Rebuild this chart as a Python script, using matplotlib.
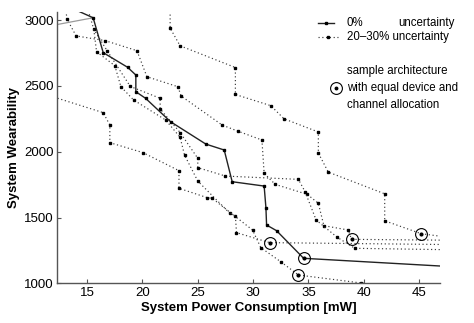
import matplotlib
matplotlib.use("Agg")
import matplotlib.pyplot as plt
from matplotlib.lines import Line2D

plt.rcParams['font.family'] = ['Liberation Sans', 'DejaVu Sans']

# 0% uncertainty (solid)
solid_x = [13.9, 15.54, 16.45, 18.65, 19.40, 19.40, 20.28, 22.54, 25.73, 27.39, 28.11, 31.00, 31.16, 31.22, 32.12, 34.57, 47.0]
solid_y = [3080, 3018, 2753, 2642, 2583, 2456, 2406, 2228, 2058, 2013, 1772, 1739, 1575, 1443, 1400, 1190, 1131]

# grey thin segment at top left
grey_x = [12.0, 15.54]
grey_y = [2962, 3018]

# 20-30% uncertainty (dotted) series
a_x = [22.5, 22.5, 23.4, 28.4, 28.4, 31.6, 32.8, 35.9, 35.9, 36.8, 41.9, 41.9, 45.2, 47.0]
a_y = [3100, 2940, 2805, 2640, 2435, 2350, 2250, 2150, 1990, 1845, 1680, 1475, 1377, 1357]

b_x = [13.0, 13.2, 14.0, 16.6, 19.5, 20.4, 23.2, 23.5, 27.2, 28.6, 30.8, 31.0, 32.0, 34.9, 35.9, 36.4, 38.6, 38.9, 47.0]
b_y = [3100, 3005, 2880, 2845, 2768, 2570, 2494, 2423, 2203, 2157, 2089, 1836, 1752, 1676, 1608, 1438, 1405, 1334, 1328]

c_x = [15.0, 15.6, 16.8, 18.9, 21.6, 21.6, 23.4, 25.0, 25.0, 27.5, 34.1, 34.7, 35.7, 37.6, 39.2, 47.0]
c_y = [3100, 2930, 2768, 2496, 2406, 2325, 2146, 1950, 1879, 1815, 1790, 1696, 1481, 1350, 1266, 1256]

d_x = [15.6, 15.85, 17.5, 18.05, 19.2, 22.1, 23.4, 23.8, 25.0, 27.9, 28.4, 28.5, 31.5, 47.0]
d_y = [2930, 2760, 2654, 2494, 2393, 2241, 2110, 1975, 1777, 1532, 1514, 1385, 1309, 1295]

e_x = [12.0, 16.45, 17.05, 17.05, 20.05, 23.3, 23.3, 25.85, 26.3, 29.95, 30.7, 32.5, 34.1, 39.8, 40.6]
e_y = [2415, 2297, 2203, 2069, 1993, 1856, 1722, 1651, 1646, 1405, 1271, 1164, 1063, 1002, 994]

dotted_series = [(a_x, a_y), (b_x, b_y), (c_x, c_y), (d_x, d_y), (e_x, e_y)]

# sample architectures with equal device and channel allocation
circ_x = [31.5, 34.57, 34.1, 38.9, 45.2]
circ_y = [1309, 1190, 1063, 1334, 1377]

x_ticks = [15, 20, 25, 30, 35, 40, 45]
y_ticks = [1000, 1500, 2000, 2500, 3000]

fig = plt.figure(figsize=(4.74, 3.23), dpi=100)
ax = fig.add_axes([0.1209, 0.1229, 0.8074, 0.840])

dot_ls = (0, (1, 2.2))
for sx, sy in dotted_series:
    ax.plot(sx, sy, linestyle=dot_ls, color='#3a3a3a', lw=0.85,
            marker='s', ms=2.0, mfc='black', mec='black', markevery=slice(1, -1))

ax.plot(grey_x, grey_y, color='#9a9a9a', lw=0.9)
ax.plot(solid_x, solid_y, color='#222222', lw=1.0, marker='s', ms=2.0,
        mfc='black', mec='black', markevery=slice(1, -1))

ax.plot(circ_x, circ_y, linestyle='none', marker='o', ms=8.5, mfc='none',
        mec='black', mew=0.8)
ax.plot(circ_x, circ_y, linestyle='none', marker='o', ms=1.8, color='black')

ax.set_xlim(12.3, 46.9)
ax.set_ylim(1000, 3062)
ax.set_xticks(x_ticks)
ax.set_yticks(y_ticks)
for s in ['top', 'right']:
    ax.spines[s].set_visible(False)
for s in ['left', 'bottom']:
    ax.spines[s].set_color('#555555')
    ax.spines[s].set_linewidth(1.0)
ax.tick_params(direction='in', length=3, width=0.8, color='#555555',
               labelsize=9.5, pad=2.5)

ax.set_xlabel('System Power Consumption [mW]', fontsize=9.5, fontweight='bold', labelpad=2)
ax.set_ylabel('System Wearability', fontsize=9.5, fontweight='bold', labelpad=3)

# legend (manual, in axes fraction coordinates)
t = ax.transAxes
ax.add_line(Line2D([0.681, 0.724], [0.9606, 0.9606], transform=t, color='#222222', lw=1.0, clip_on=False))
ax.add_line(Line2D([0.7025], [0.9606], transform=t, marker='s', ms=2.0, color='black', clip_on=False))
ax.add_line(Line2D([0.681, 0.733], [0.909, 0.909], transform=t, color='#3a3a3a', lw=0.85,
                   linestyle=dot_ls, clip_on=False))
ax.add_line(Line2D([0.707], [0.909], transform=t, marker='s', ms=2.0, color='black', clip_on=False))
fs = 8.3
ax.text(0.756, 0.9606, '0%', transform=t, fontsize=fs, va='center', ha='left')
ax.text(0.891, 0.9606, 'uncertainty', transform=t, fontsize=fs, va='center', ha='left')
ax.text(0.756, 0.909, '20–30% uncertainty', transform=t, fontsize=fs, va='center', ha='left')
ax.text(0.756, 0.7825, 'sample architecture', transform=t, fontsize=fs, va='center', ha='left')
ax.text(0.756, 0.7188, 'with equal device and', transform=t, fontsize=fs, va='center', ha='left')
ax.text(0.756, 0.6554, 'channel allocation', transform=t, fontsize=fs, va='center', ha='left')
ax.add_line(Line2D([0.728], [0.7188], transform=t, marker='o', ms=8.5, mfc='none', mec='black',
                   mew=0.8, linestyle='none', clip_on=False))
ax.add_line(Line2D([0.728], [0.7188], transform=t, marker='o', ms=1.8, color='black',
                   linestyle='none', clip_on=False))

fig.savefig('out.png', dpi=100)
